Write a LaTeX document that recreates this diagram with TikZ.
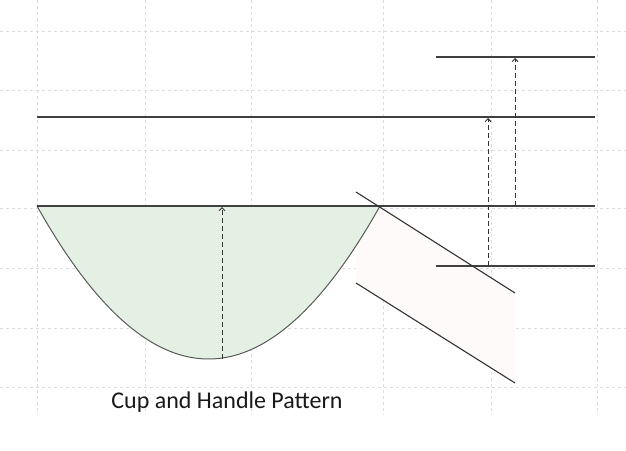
\documentclass[tikz,border=0pt]{standalone}
\usepackage{fontspec}
\setmainfont{Carlito}
\usetikzlibrary{arrows.meta}
\begin{document}
\begin{tikzpicture}[x=1pt,y=-1pt,
  gridln/.style={draw=blue!10!gray!25, dashed, line width=0.6pt},
  lvl/.style={draw=black!75, line width=1.2pt},
  meas/.style={draw=black!80, dash pattern=on 5pt off 3pt, line width=1pt, -{Straight Barb[length=3pt,width=6pt]}}]
\useasboundingbox (0,0) rectangle (626,450);
\foreach \x in {37,145,251,383,491,597} \draw[gridln] (\x,0) -- (\x,415);
\foreach \y in {31,90,150,208,268,328,387} \draw[gridln] (0,\y) -- (626,\y);
% handle fill
\fill[orange!2!red!2] (356,206) -- (380,206) -- (515,293) -- (515,383) -- (356,283) -- cycle;
% cup
\fill[green!45!black!11] (37,206) -- plot[domain=37:380,samples=80] (\x,{359-153*((\x-208.5)/171.5)^2}) -- cycle;
\draw[black!65, line width=1pt] plot[domain=37:380,samples=80] (\x,{359-153*((\x-208.5)/171.5)^2});
\coordinate (cb) at (222,359); \coordinate (ct) at (222,207);
\draw[meas] (cb) -- (ct);
\draw[lvl] (37,206) -- (595,206);
\draw[lvl] (37,117) -- (595,117);
\draw[lvl] (436,57) -- (595,57);
\draw[lvl] (436,266) -- (595,266);
\draw[black!80, line width=1.1pt] (356,192) -- (515,293);
\draw[black!80, line width=1.1pt] (356,283) -- (515,383);
\coordinate (a1) at (488,266); \coordinate (a2) at (488,118);
\coordinate (b1) at (515,206); \coordinate (b2) at (515,58);
\draw[meas] (a1) -- (a2);
\draw[meas] (b1) -- (b2);
\node[font=\fontsize{24}{28}\selectfont, text=black!90] (t) at (227,402) {Cup and Handle Pattern};
\end{tikzpicture}
\end{document}
